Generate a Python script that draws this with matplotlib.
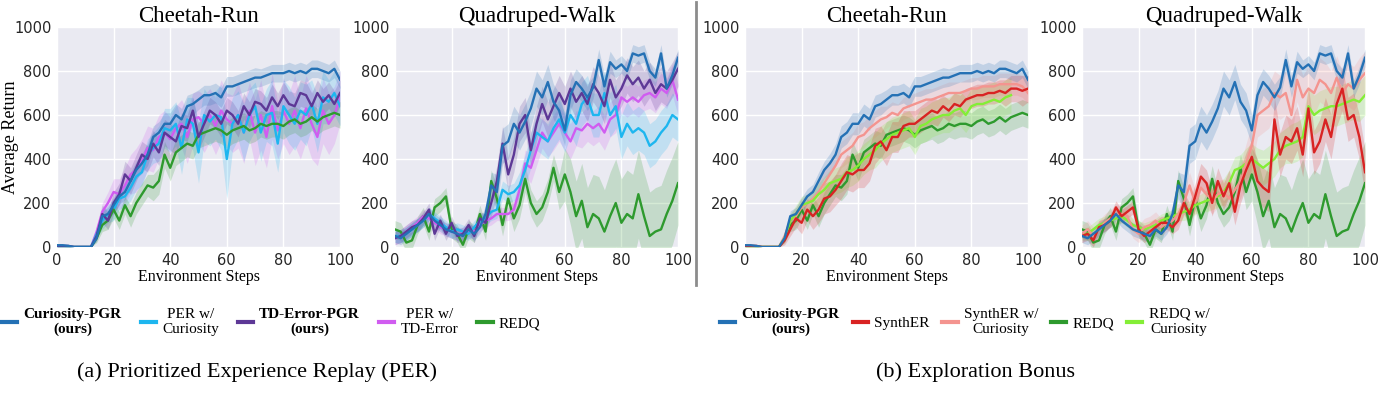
import numpy as np
import matplotlib
matplotlib.use('Agg')
import matplotlib.pyplot as plt
from matplotlib.lines import Line2D

nan = np.nan
steps = np.arange(0, 101, 2)

# ---------- Cheetah-Run (mean, half-band) ----------
cheetah_cur_pgr = [8, 8, 5, 0, 0, 0, 0, 40, 140, 150,
                   190, 230, 250, 300, 350, 380, 420, 500, 520, 560,
                   560, 600, 580, 640, 650, 670, 690, 690, 700, 680,
                   730, 730, 740, 750, 760, 770, 770, 780, 790, 790,
                   790, 800, 790, 800, 790, 810, 810, 800, 790, 810,
                   760]
cheetah_cur_pgr_sd = [5, 5, 5, 0, 0, 0, 0, 15, 25, 30,
                      35, 35, 35, 40, 40, 45, 50, 50, 50, 50,
                      50, 50, 50, 50, 50, 45, 45, 45, 45, 45,
                      45, 45, 45, 45, 45, 45, 40, 40, 40, 40,
                      40, 40, 40, 40, 40, 40, 40, 40, 40, 40,
                      40]
cheetah_per_cur = [0, 0, 0, 0, 0, 0, 0, 60, 120, 150,
                   170, 220, 230, 270, 320, 340, 420, 450, 470, 540,
                   530, 560, 450, 580, 560, 430, 600, 570, 600, 590,
                   400, 560, 600, 520, 600, 640, 520, 600, 610, 470,
                   640, 600, 560, 620, 600, 650, 560, 680, 660, 700,
                   640]
cheetah_per_cur_sd = [3, 3, 3, 0, 0, 0, 0, 20, 40, 40,
                      50, 50, 50, 60, 60, 60, 70, 70, 80, 90,
                      100, 100, 120, 100, 120, 140, 120, 110, 110, 150,
                      180, 120, 110, 130, 120, 110, 130, 120, 150, 130,
                      120, 130, 120, 130, 140, 110, 130, 120, 100, 100,
                      90]
cheetah_td_pgr = [5, 5, 5, 0, 0, 0, 0, 50, 150, 120,
                  200, 240, 330, 300, 360, 420, 400, 470, 430, 520,
                  500, 480, 550, 540, 620, 500, 560, 620, 600, 560,
                  620, 600, 560, 640, 600, 660, 650, 620, 680, 640,
                  690, 650, 640, 700, 690, 640, 700, 660, 690, 650,
                  700]
cheetah_td_pgr_sd = [3, 3, 3, 0, 0, 0, 0, 20, 40, 40,
                     50, 50, 60, 60, 60, 60, 60, 60, 60, 60,
                     60, 60, 60, 60, 60, 60, 60, 60, 60, 60,
                     60, 60, 60, 60, 60, 60, 60, 60, 60, 60,
                     60, 60, 60, 60, 60, 60, 60, 60, 60, 60,
                     60]
cheetah_per_td = [0, 0, 0, 0, 0, 0, 0, 70, 160, 200,
                  250, 240, 280, 330, 350, 390, 450, 440, 500, 520,
                  490, 540, 560, 500, 580, 590, 560, 600, 550, 620,
                  580, 560, 600, 520, 620, 520, 600, 500, 640, 530,
                  620, 560, 620, 540, 630, 560, 500, 620, 560, 600,
                  680]
cheetah_per_td_sd = [3, 3, 3, 0, 0, 0, 0, 20, 40, 50,
                     60, 70, 80, 90, 100, 100, 100, 100, 100, 100,
                     100, 100, 110, 120, 120, 120, 130, 120, 130, 140,
                     120, 130, 150, 140, 130, 150, 160, 140, 150, 130,
                     150, 140, 160, 140, 150, 160, 130, 150, 140, 130,
                     120]
cheetah_redq = [0, 0, 0, 0, 0, 0, 0, 40, 100, 120,
                170, 120, 190, 140, 200, 240, 280, 270, 300, 420,
                360, 430, 450, 470, 460, 510, 520, 530, 540, 530,
                510, 530, 540, 550, 530, 540, 560, 550, 560, 560,
                550, 570, 580, 560, 570, 590, 570, 590, 600, 610,
                600]
cheetah_redq_sd = [3, 3, 3, 0, 0, 0, 0, 20, 30, 40,
                   40, 40, 40, 50, 50, 50, 50, 60, 60, 60,
                   60, 60, 60, 60, 60, 60, 60, 60, 60, 60,
                   60, 60, 60, 60, 60, 60, 60, 60, 60, 60,
                   60, 60, 60, 60, 60, 60, 60, 60, 60, 60,
                   60]
cheetah_synther = [5, 5, 5, 0, 0, 0, 0, 30, 80, 130,
                   110, 170, 140, 170, 220, 230, 260, 300, 340, 330,
                   350, 350, 380, 460, 480, 440, 500, 500, 550, 560,
                   560, 580, 600, 620, 610, 640, 620, 650, 640, 670,
                   680, 690, 690, 700, 700, 710, 700, 720, 720, 710,
                   720]
cheetah_synther_sd = [3, 3, 3, 0, 0, 0, 0, 20, 30, 40,
                      50, 50, 60, 60, 70, 70, 70, 80, 80, 80,
                      80, 80, 80, 80, 70, 70, 70, 70, 70, 60,
                      60, 60, 60, 60, 60, 50, 50, 50, 50, 50,
                      50, 50, 50, 50, 50, 50, 60, 60, 60, 70,
                      60]
cheetah_synther_cur = [0, 0, 0, 0, 0, 0, 0, 50, 120, 140,
                       180, 200, 220, 250, 290, 330, 370, 420, 440, 460,
                       500, 510, 540, 560, 580, 590, 610, 600, 630, 640,
                       650, 660, 670, 670, 680, 690, 700, 700, 700, 710,
                       720, 720, 730, 730, 730, 740, 740, 740, 740, 730,
                       700]
cheetah_synther_cur_sd = [3, 3, 3, 0, 0, 0, 0, 20, 30, 40,
                          40, 40, 50, 50, 60, 60, 60, 60, 60, 60,
                          60, 60, 60, 60, 60, 50, 50, 50, 50, 50,
                          50, 50, 50, 50, 50, 50, 50, 50, 50, 50,
                          50, 50, 50, 50, 50, 50, 50, 50, 50, 50,
                          50]
cheetah_redq_cur = [0, 0, 0, 0, 0, 0, 0, 40, 120, 150,
                    190, 200, 210, 240, 260, 290, 300, 310, 340, 350,
                    370, 400, 420, 440, 470, 490, 510, 520, 530, 540,
                    500, 550, 560, 580, 590, 600, 600, 620, 630, 600,
                    640, 650, 650, 660, 670, 660, 680, 690, nan, nan,
                    nan]
cheetah_redq_cur_sd = [3, 3, 3, 0, 0, 0, 0, 20, 30, 40,
                       40, 40, 50, 50, 60, 60, 60, 60, 70, 70,
                       70, 70, 70, 80, 80, 80, 80, 80, 80, 80,
                       80, 80, 80, 80, 80, 80, 80, 80, 80, 80,
                       80, 80, 80, 80, 80, 80, 80, 80, nan, nan,
                       nan]

# ---------- Quadruped-Walk (mean, half-band) ----------
quad_cur_pgr = [50, 40, 60, 80, 100, 120, 150, 120, 100, 80,
                70, 60, 50, 80, 60, 90, 150, 280, 250, 460,
                480, 560, 520, 570, 630, 720, 680, 750, 660, 620,
                530, 690, 750, 720, 680, 725, 850, 730, 840, 810,
                830, 800, 880, 870, 880, 800, 770, 880, 720, 780,
                860]
quad_cur_pgr_sd = [30, 30, 30, 30, 30, 30, 30, 30, 30, 30,
                   30, 30, 30, 30, 30, 30, 40, 60, 80, 80,
                   80, 80, 80, 80, 80, 80, 80, 80, 80, 80,
                   70, 70, 60, 60, 60, 50, 50, 50, 50, 40,
                   40, 40, 40, 40, 40, 40, 40, 40, 40, 40,
                   40]
quad_per_cur = [50, 50, 60, 80, 100, 120, 150, 130, 110, 90,
                70, 80, 70, 60, 90, 120, 130, 160, 170, 260,
                240, 250, 280, 350, 440, 520, 500, 480, 540, 580,
                520, 600, 560, 650, 680, 600, 600, 700, 600, 640,
                500, 560, 520, 540, 520, 460, 480, 520, 550, 600,
                580]
quad_per_cur_sd = [30, 30, 30, 30, 30, 30, 30, 30, 30, 30,
                   30, 30, 30, 30, 30, 30, 30, 40, 40, 40,
                   40, 40, 60, 70, 80, 80, 80, 80, 90, 90,
                   90, 90, 100, 100, 100, 100, 100, 100, 100, 100,
                   100, 100, 100, 100, 100, 100, 100, 100, 100, 100,
                   100]
quad_td_pgr = [40, 50, 70, 90, 100, 130, 170, 60, 120, 60,
               110, 50, 60, 100, 50, 130, 110, 200, 300, 470,
               330, 420, 560, 600, 440, 560, 650, 580, 640, 700,
               650, 720, 660, 700, 650, 740, 700, 640, 760, 680,
               720, 780, 740, 770, 720, 760, 700, 740, 720, 760,
               810]
quad_td_pgr_sd = [30, 30, 30, 30, 30, 30, 30, 30, 30, 30,
                  30, 30, 30, 30, 30, 30, 40, 60, 70, 80,
                  80, 80, 80, 80, 80, 80, 80, 80, 80, 80,
                  80, 80, 80, 80, 80, 80, 80, 80, 80, 80,
                  80, 80, 80, 80, 80, 80, 80, 80, 80, 80,
                  80]
quad_per_td = [40, 50, 70, 90, 110, 140, 130, 110, 90, 80,
               70, 60, 60, 70, 70, 100, 120, 130, 150, 150,
               150, 170, 260, 380, 360, 440, 520, 480, 520, 560,
               520, 480, 540, 530, 560, 540, 560, 520, 580, 600,
               680, 660, 680, 660, 690, 700, 680, 720, 700, 760,
               670]
quad_per_td_sd = [30, 30, 30, 30, 30, 30, 30, 30, 30, 30,
                  30, 30, 30, 30, 30, 30, 30, 30, 30, 30,
                  30, 40, 50, 60, 70, 70, 70, 70, 80, 80,
                  80, 80, 80, 80, 80, 80, 80, 80, 80, 80,
                  70, 70, 70, 70, 70, 70, 70, 70, 70, 70,
                  70]
quad_redq = [80, 70, 20, 30, 100, 140, 70, 180, 200, 230,
             80, 60, 10, 80, 60, 150, 70, 300, 220, 100,
             220, 130, 190, 310, 200, 150, 180, 250, 360, 250,
             330, 250, 140, 210, 90, 150, 130, 70, 140, 200,
             110, 150, 130, 240, 140, 50, 70, 80, 150, 210,
             290]
quad_redq_sd = [40, 40, 40, 40, 40, 40, 40, 40, 40, 40,
                40, 40, 40, 40, 40, 40, 40, 50, 50, 50,
                50, 60, 60, 60, 60, 60, 60, 60, 60, 80,
                120, 150, 160, 170, 180, 180, 190, 190, 200, 200,
                200, 200, 200, 200, 200, 200, 200, 200, 200, 200,
                190]
quad_synther = [50, 60, 30, 90, 100, 120, 180, 140, 160, 180,
                80, 50, 70, 90, 110, 110, 90, 120, 200, 150,
                230, 320, 290, 200, 300, 230, 290, 160, 280, 350,
                410, 300, 270, 250, 580, 420, 500, 480, 540, 420,
                630, 430, 480, 580, 500, 650, 720, 580, 600, 500,
                340]
quad_synther_sd = [30, 30, 30, 30, 30, 30, 30, 30, 30, 30,
                   30, 30, 30, 30, 30, 30, 30, 40, 50, 50,
                   60, 60, 60, 60, 60, 60, 60, 60, 80, 80,
                   80, 90, 90, 90, 100, 100, 100, 100, 100, 100,
                   100, 100, 100, 100, 100, 100, 100, 100, 100, 100,
                   100]
quad_synther_cur = [60, 80, 50, 80, 110, 130, 150, 150, 140, 80,
                    60, 90, 100, 120, 90, 110, 120, 150, 200, 280,
                    200, 270, 240, 210, 240, 250, 220, 260, 300, 380,
                    460, 600, 620, 640, 700, 680, 700, 600, 760, 680,
                    720, 700, 760, 740, 700, 770, 700, 740, 720, 760,
                    790]
quad_synther_cur_sd = [40, 40, 40, 40, 40, 40, 40, 40, 40, 40,
                       40, 40, 40, 40, 40, 40, 40, 50, 60, 60,
                       60, 60, 60, 60, 60, 60, 60, 70, 80, 90,
                       100, 100, 100, 100, 100, 100, 100, 100, 100, 100,
                       100, 100, 100, 100, 100, 100, 100, 100, 100, 100,
                       100]
quad_redq_cur = [60, 60, 80, 100, 110, 120, 130, 140, 120, 100,
                 90, 80, 90, 100, 120, 130, 140, 150, 160, 170,
                 190, 200, 210, 220, 230, 250, 290, 350, 360, 380,
                 400, 380, 360, 380, 400, 440, 460, 470, 480, 500,
                 640, 600, 620, 630, 640, 640, 650, 660, 670, 660,
                 690]
quad_redq_cur_sd = [30, 30, 30, 30, 30, 30, 30, 30, 30, 30,
                    30, 30, 30, 30, 30, 30, 30, 30, 40, 40,
                    40, 40, 50, 50, 50, 60, 60, 60, 60, 70,
                    70, 70, 80, 80, 80, 80, 80, 90, 90, 90,
                    90, 90, 90, 90, 90, 90, 90, 90, 90, 90,
                    90]

# ---------- styles ----------
C_CUR_PGR = '#2471b5'
C_PER_CUR = '#1db6ef'
C_TD_PGR = '#5d3896'
C_PER_TD = '#d05cf0'
C_REDQ = '#2e9a2e'
C_SYN = '#d92323'
C_SYN_CUR = '#f4948f'
C_REDQ_CUR = '#84ee36'

SERIF = 'Liberation Serif'
BG = '#eaeaf2'

fig = plt.figure(figsize=(13.81, 3.99), dpi=100)

W = 283 / 1381
H = 220 / 399
B = 1 - 247 / 399
lefts = [57 / 1381, 395 / 1381, 745 / 1381, 1082 / 1381]


def panel(left, series, title, ylabel=None):
    ax = fig.add_axes([left, B, W, H])
    ax.set_facecolor(BG)
    for mean, sd, color in series:
        m = np.array(mean, dtype=float)
        s = np.array(sd, dtype=float)
        ax.fill_between(steps, m - s, m + s, color=color, alpha=0.2, lw=0)
        ax.plot(steps, m, color=color, lw=1.7)
    ax.set_xlim(0, 100)
    ax.set_ylim(0, 1000)
    ax.set_xticks([0, 20, 40, 60, 80, 100])
    ax.set_yticks([0, 200, 400, 600, 800, 1000])
    ax.grid(True, color='white', lw=1.0)
    ax.set_axisbelow(True)
    for sp in ax.spines.values():
        sp.set_visible(False)
    ax.tick_params(length=0, labelsize=10.5, labelcolor='#262626', pad=4)
    ax.set_title(title, fontsize=16.5, family=SERIF, pad=3)
    ax.set_xlabel('Environment Steps', fontsize=11.5, family=SERIF, labelpad=1)
    if ylabel:
        ax.set_ylabel(ylabel, fontsize=13, family=SERIF)
        ax.yaxis.set_label_coords(-0.135, 0.5)
    return ax


panel(lefts[0], [(cheetah_per_td, cheetah_per_td_sd, C_PER_TD),
                 (cheetah_per_cur, cheetah_per_cur_sd, C_PER_CUR),
                 (cheetah_redq, cheetah_redq_sd, C_REDQ),
                 (cheetah_td_pgr, cheetah_td_pgr_sd, C_TD_PGR),
                 (cheetah_cur_pgr, cheetah_cur_pgr_sd, C_CUR_PGR)],
      'Cheetah-Run', 'Average Return')
panel(lefts[1], [(quad_redq, quad_redq_sd, C_REDQ),
                 (quad_per_td, quad_per_td_sd, C_PER_TD),
                 (quad_per_cur, quad_per_cur_sd, C_PER_CUR),
                 (quad_td_pgr, quad_td_pgr_sd, C_TD_PGR),
                 (quad_cur_pgr, quad_cur_pgr_sd, C_CUR_PGR)],
      'Quadruped-Walk')
panel(lefts[2], [(cheetah_redq, cheetah_redq_sd, C_REDQ),
                 (cheetah_synther_cur, cheetah_synther_cur_sd, C_SYN_CUR),
                 (cheetah_redq_cur, cheetah_redq_cur_sd, C_REDQ_CUR),
                 (cheetah_synther, cheetah_synther_sd, C_SYN),
                 (cheetah_cur_pgr, cheetah_cur_pgr_sd, C_CUR_PGR)],
      'Cheetah-Run')
panel(lefts[3], [(quad_redq, quad_redq_sd, C_REDQ),
                 (quad_redq_cur, quad_redq_cur_sd, C_REDQ_CUR),
                 (quad_synther_cur, quad_synther_cur_sd, C_SYN_CUR),
                 (quad_synther, quad_synther_sd, C_SYN),
                 (quad_cur_pgr, quad_cur_pgr_sd, C_CUR_PGR)],
      'Quadruped-Walk')


def legend(entries, x0, bold, spacing):
    handles = [Line2D([], [], color=c, lw=3) for _, c in entries]
    labels = [l for l, _ in entries]
    leg = fig.legend(handles, labels, ncol=len(entries), loc='center left',
                     bbox_to_anchor=(x0, 1 - 322 / 399), frameon=False,
                     prop={'family': SERIF, 'size': 11}, handlelength=1.0,
                     handletextpad=0.4, columnspacing=spacing,
                     borderaxespad=0, borderpad=0, labelspacing=0.2)
    for t in leg.get_texts():
        t.set_multialignment('center')
        if t.get_text() in bold:
            t.set_fontweight('bold')
    return leg


legend([('Curiosity-PGR\n(ours)', C_CUR_PGR), ('PER w/\nCuriosity', C_PER_CUR),
        ('TD-Error-PGR\n(ours)', C_TD_PGR), ('PER w/\nTD-Error', C_PER_TD),
        ('REDQ', C_REDQ)], 2 / 1381,
       ['Curiosity-PGR\n(ours)', 'TD-Error-PGR\n(ours)'], 1.25)
legend([('Curiosity-PGR\n(ours)', C_CUR_PGR), ('SynthER', C_SYN),
        ('SynthER w/\nCuriosity', C_SYN_CUR), ('REDQ', C_REDQ),
        ('REDQ w/\nCuriosity', C_REDQ_CUR)], 720 / 1381,
       ['Curiosity-PGR\n(ours)'], 0.85)

fig.text(257 / 1381, 1 - 372 / 399, '(a) Prioritized Experience Replay (PER)',
         ha='center', va='center', family=SERIF, fontsize=16)
fig.text(975 / 1381, 1 - 372 / 399, '(b) Exploration Bonus',
         ha='center', va='center', family=SERIF, fontsize=16)

fig.add_artist(Line2D([696 / 1381, 696 / 1381], [1 - 2 / 399, 1 - 285 / 399],
                      color='#8c8c8c', lw=2))

fig.savefig('out.png', dpi=100)
